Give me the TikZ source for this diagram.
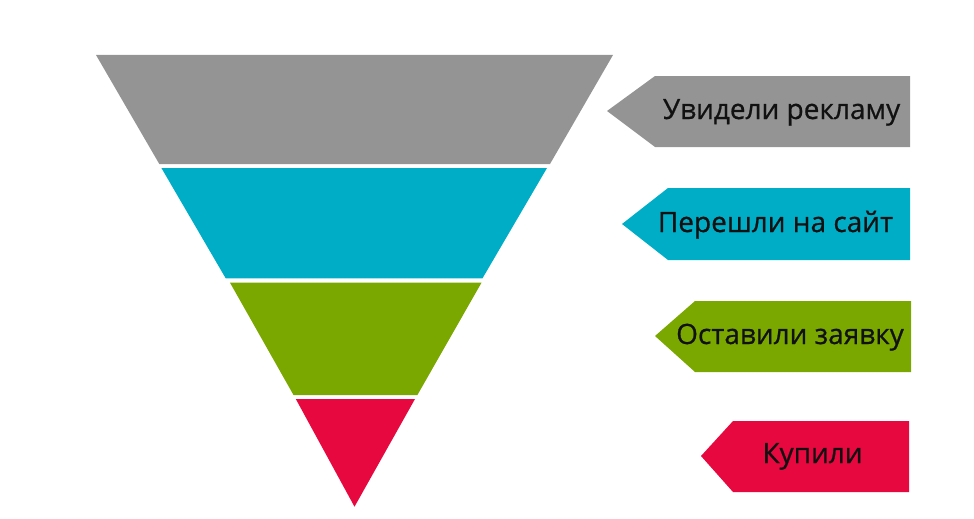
\documentclass[tikz,border=0pt]{standalone}
\usepackage{fontspec}
\setmainfont{Open Sans}
\newfontfamily\tagfont[FakeBold=0.7]{Open Sans}
\definecolor{fgray}{HTML}{949494}
\definecolor{fcyan}{HTML}{00ADC7}
\definecolor{fgreen}{HTML}{7AA800}
\definecolor{fred}{HTML}{E6083E}
\definecolor{ftext}{HTML}{111111}
\tikzset{
  taglabel/.style={text=ftext, font=\tagfont\fontsize{28}{32}\selectfont, inner sep=0pt, anchor=base}
}
\begin{document}
\begin{tikzpicture}[x=1pt,y=-1pt]
\useasboundingbox (0,0) rectangle (974,519);
% funnel bands
\fill[fgray]  (96,55) -- (613,55) -- (550,164) -- (159.3,164) -- cycle;
\fill[fcyan]  (161.4,168) -- (547,168) -- (482.5,278.3) -- (225.7,278.3) -- cycle;
\fill[fgreen] (230,282.7) -- (481.5,282.7) -- (417.4,395) -- (293.5,395) -- cycle;
\fill[fred]   (295.8,399) -- (415,399) -- (354.5,506.7) -- cycle;
% tags
\fill[fgray]  (607,111) -- (655,76)  -- (910,76)  -- (910,147) -- (655,147) -- cycle;
\fill[fcyan]  (622,224) -- (668,188) -- (910,188) -- (910,260) -- (668,260) -- cycle;
\fill[fgreen] (655,336) -- (695,301) -- (911,301) -- (911,372) -- (695,372) -- cycle;
\fill[fred]   (701,456) -- (733,421) -- (909,421) -- (909,492) -- (733,492) -- cycle;
\node[taglabel] (t1) at (781.5,119) {Увидели рекламу};
\node[taglabel] (t2) at (775.5,232) {Перешли на сайт};
\node[taglabel] (t3) at (790,344) {Оставили заявку};
\node[taglabel] (t4) at (812.5,463) {Купили};
\end{tikzpicture}
\end{document}
